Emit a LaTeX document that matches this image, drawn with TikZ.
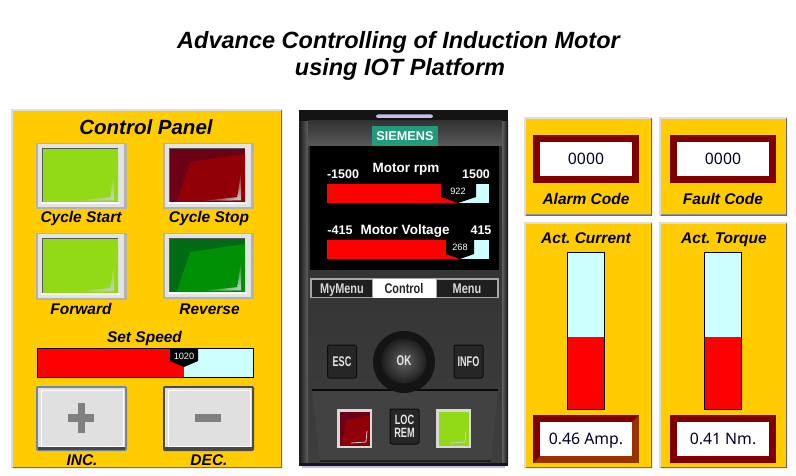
\documentclass[tikz,border=0pt]{standalone}
\usepackage{fontspec}
\usepackage{xcolor}
\setmainfont{Liberation Sans}
\newfontfamily\valfont{Noto Sans}
\definecolor{panelyellow}{HTML}{FFCC00}
\definecolor{framered}{HTML}{800000}
\definecolor{framebrown}{HTML}{993300}
\definecolor{barblue}{HTML}{CCFFFF}
\definecolor{limegreen}{HTML}{92D916}
\definecolor{stopdark}{HTML}{6B0016}
\definecolor{stoplit}{HTML}{900006}
\definecolor{revdark}{HTML}{006A14}
\definecolor{revlit}{HTML}{009006}
\definecolor{siemensgreen}{HTML}{239B78}
\definecolor{incframe}{HTML}{6F86A8}
\definecolor{decframe}{HTML}{4A4A4A}
\tikzset{
  lbl/.style={font=\bfseries\itshape\fontsize{15.5}{15.5}\selectfont,inner sep=0pt,text height=15pt,text depth=3.5pt},
  val/.style={font=\valfont\fontsize{15.8}{16}\selectfont,inner sep=0pt,text=black!85!blue,text height=11.5pt,text depth=0pt},
  hmitxt/.style={font=\bfseries\fontsize{13.5}{14}\selectfont,text=white,inner sep=0pt,text height=14pt,text depth=2pt},
  tick/.style={font=\bfseries\fontsize{12.5}{13}\selectfont,text=white,inner sep=0pt},
  markval/.style={font=\fontsize{9.2}{10}\selectfont,text=white,inner sep=0pt},
  keytxt/.style={font=\bfseries\fontsize{14}{14}\selectfont,text=white!90!black,inner sep=0pt,align=center},
  tabtxt/.style={font=\bfseries\fontsize{14}{14}\selectfont,inner sep=0pt,text height=10pt,text depth=0pt},
  hmikey/.style={fill=black!85,rounded corners=2pt,draw=black!95,line width=1pt},
}
% x y w h : raised yellow panel
\newcommand{\panel}[4]{
  \fill[black!13] (#1,#2) rectangle ++(#3,#4);
  \fill[black!58] (#1+1.5,#2+#4) -- (#1+#3,#2+#4) -- (#1+#3,#2+1) -- (#1+#3-1.5,#2+2) -- (#1+#3-1.5,#2+#4-1.5) -- (#1+2,#2+#4-1.5) -- cycle;
  \fill[panelyellow] (#1+2,#2+2) rectangle (#1+#3-1.5,#2+#4-1.5);
}
% x y w h base lit : lamp face with its frame
\newcommand{\lamp}[6]{
  \fill[black!30] (#1-6,#2-5) rectangle ++(#3+15,#4+12);
  \fill[black!11] (#1-4,#2-4) rectangle ++(#3+10,#4+9);
  \fill[white] (#1-1,#2+#4) rectangle ++(#3+3,2);
  \fill[#5] (#1,#2) rectangle ++(#3,#4);
  \draw[black!65,line width=.8pt] (#1,#2+#4) -- ++(0,-#4) -- ++(#3,0);
  \begin{scope}[shift={(#1,#2)},x=#3pt,y=-#4pt]
    \fill[#6] (.28,.26) -- (1,.11) -- (1,1) -- (.1,1) -- cycle;
    \shade[left color=#6,right color=black!20] (.43,.98) -- (.9,.91) -- (.95,.97) -- cycle;
    \shade[bottom color=black!20,top color=#6] (.9,.91) -- (.95,.41) -- (.95,.97) -- cycle;
  \end{scope}
}
% x frame : grey push button, its sign is drawn after it
\newcommand{\pushbtn}[2]{
  \fill[#2,rounded corners=2pt] (#1,386) rectangle ++(91,65);
  \fill[black!12] (#1+2,388) rectangle ++(87,58.5);
  \draw[white,line width=1pt] (#1+5,390.5) rectangle ++(82,56);
  \fill[black!72] (#1+2,447) rectangle ++(87,3);
}
\begin{document}
\begin{tikzpicture}[x=1pt,y=-1pt]
    %
    \useasboundingbox (0,0) rectangle (796,476);
    \fill[white] (0,0) rectangle (796,476);
    %
    \node[font=\bfseries\itshape\fontsize{23.5}{24}\selectfont,inner sep=0pt] (title1) at (398.5,42) {Advance Controlling of Induction Motor};
    \node[font=\bfseries\itshape\fontsize{23.5}{24}\selectfont,inner sep=0pt] (title2) at (400,69) {using IOT Platform};
    %
    % control panel
    \panel{11}{109}{271}{359}
    \node[lbl,font=\bfseries\itshape\fontsize{20.5}{21}\selectfont] (cp) at (146,129) {Control Panel};
    \lamp{42}{148}{76}{54}{limegreen}{limegreen}
    \lamp{169}{148}{76}{54}{stopdark}{stoplit}
    \lamp{42}{238}{76}{55}{limegreen}{limegreen}
    \lamp{169}{238}{76}{54}{revdark}{revlit}
    \node[lbl] (start) at (81,217) {Cycle Start};
    \node[lbl] (stop) at (209,217) {Cycle Stop};
    \node[lbl] (fwd) at (81,309) {Forward};
    \node[lbl] (rev) at (209.5,309) {Reverse};
    \node[lbl] (setspeed) at (144.5,337) {Set Speed};
    %
    % set speed bar
    \fill[barblue] (37.5,348.5) rectangle (253.5,377.5);
    \fill[red] (37.5,348.5) rectangle (184,377.5);
    \draw[line width=.8pt] (37.5,348.5) rectangle (253.5,377.5);
    \fill[black] (170,348) -- (198,348) -- (198,361) -- (184,367) -- (170,361) -- cycle;
    \node[markval] (spd) at (184,356) {1020};
    %
    \pushbtn{36}{incframe}
    \pushbtn{163}{decframe}
    \fill[black!50] (78,403) rectangle (85,433);
    \fill[black!50] (68,414) rectangle (94,422);
    \fill[black!50] (195,414) rectangle (221,422);
    \node[lbl] (inc) at (82,460) {INC.};
    \node[lbl] (dec) at (209,460) {DEC.};
    %
    % drive keypad
    \fill[black!92] (299,110) rectangle (508,466);
    \fill[black!30!blue!25!white] (302,466) rectangle (505,468);
    \shade[top color=black!82,bottom color=black!76] (308,121) rectangle (502,462);
    \shade[left color=black!90,right color=black!62] (299,122) rectangle (308,462);
    \shade[left color=black!62,right color=black!92] (502,122) rectangle (508,462);
    \fill[black!88] (320,460) rectangle (491,462);
    \fill[black!74] (312,391) -- (498,391) -- (491,460) -- (320,460) -- cycle;
    \fill[black!96] (312,388.5) rectangle (498,390.5);
    \fill[black!25!blue!25!white,rounded corners=2pt] (376,114.5) rectangle (433,118);
    \shade[top color=black!80,bottom color=black!65] (308,121) rectangle (502,146);
    \fill[black] (310,146) rectangle (499,270);
    \node[fill=siemensgreen,minimum width=66pt,minimum height=20pt,inner sep=0pt,text=white,font=\bfseries\fontsize{12.7}{13}\selectfont] (logo) at (405,136) {SIEMENS};
    %
    \node[hmitxt] (rpm) at (406,167) {Motor rpm};
    \node[tick] (rpmlo) at (343,174) {-1500};
    \node[tick] (rpmhi) at (476,174) {1500};
    \fill[barblue] (327,184) rectangle (489,203);
    \fill[red] (327,184) rectangle (458,203);
    \fill[black] (441,184) -- (476,184) -- (476,197) -- (458,203) -- (441,197) -- cycle;
    \node[markval] (rpmval) at (458,191) {922};
    %
    \node[hmitxt] (volt) at (405,229) {Motor Voltage};
    \node[tick] (voltlo) at (340,230) {-415};
    \node[tick] (volthi) at (481,230) {415};
    \fill[barblue] (327,240) rectangle (489,259);
    \fill[red] (327,240) rectangle (460,259);
    \fill[black] (446,240) -- (474,240) -- (474,254) -- (460,259) -- (446,254) -- cycle;
    \node[markval] (voltval) at (460,247) {268};
    %
    % menu tabs
    \fill[black!35] (310,278) rectangle (499,298);
    \fill[black!88] (312,280) rectangle (372,297);
    \fill[white] (373,279) rectangle (436,298);
    \fill[black!88] (437,280) rectangle (497,297);
    \node[tabtxt,text=white!85!black] (tab1) at (342,288.5) {\scalebox{.78}[1]{MyMenu}};
    \node[tabtxt,text=black!85] (tab2) at (404,288.5) {\scalebox{.78}[1]{Control}};
    \node[tabtxt,text=white!85!black] (tab3) at (467,288.5) {\scalebox{.78}[1]{Menu}};
    %
    % keys and dial
    \node[circle,fill=black!92,minimum size=62pt,inner sep=0pt] (dialrim) at (404,362) {};
    \shade[inner color=black!62,outer color=black!88] (404,361) circle[radius=22.5];
    \node[keytxt] (ok) at (404,361) {\scalebox{.7}[1]{OK}};
    \node[hmikey,minimum width=29pt,minimum height=33pt,inner sep=0pt] (esc) at (342,361.5) {};
    \node[keytxt] (esctxt) at (esc) {\scalebox{.65}[1]{ESC}};
    \node[hmikey,minimum width=29pt,minimum height=33pt,inner sep=0pt] (info) at (468.5,361.5) {};
    \node[keytxt] (infotxt) at (info) {\scalebox{.65}[1]{INFO}};
    \node[hmikey,minimum width=29pt,minimum height=35pt,inner sep=0pt] (loc) at (404.5,426.5) {};
    \node[keytxt,font=\bfseries\fontsize{13.5}{12.5}\selectfont] (loctxt) at (loc) {\scalebox{.68}[1]{LOC}\\\scalebox{.68}[1]{REM}};
    %
    \fill[black!15] (337,409) rectangle (372,448);
    \fill[stopdark] (339.5,411.5) rectangle (369.5,445.5);
    \fill[stoplit] (346,420) -- (369.5,415) -- (369.5,445.5) -- (342,445.5) -- cycle;
    \draw[black!20,line width=.8pt] (351,443) -- (366,442) -- (367,431);
    \fill[black!15] (436,409) rectangle (471,448);
    \fill[limegreen] (438.5,411.5) rectangle (468.5,445.5);
    \draw[black!20,line width=.8pt] (450,443) -- (465,442) -- (466,431);
    %
    % alarm and fault
    \panel{524}{117}{128}{99}
    \panel{659}{117}{128}{99}
    \fill[framered] (533,135) rectangle (639,183);
    \fill[white] (540,142) rectangle (632,176);
    \fill[framered] (670,135) rectangle (776,183);
    \fill[white] (677,142) rectangle (769,176);
    \node[val] (alarm) at (586,159) {0000};
    \node[val] (fault) at (723,159) {0000};
    \node[lbl] (alarmlbl) at (586,199) {Alarm Code};
    \node[lbl] (faultlbl) at (723,199) {Fault Code};
    %
    % current and torque
    \panel{524}{222}{128}{246}
    \panel{659}{222}{128}{246}
    \node[lbl] (curlbl) at (586,238) {Act.\ Current};
    \node[lbl] (torlbl) at (724,238) {Act.\ Torque};
    \fill[barblue] (567.5,252.5) rectangle (604.5,409.5);
    \fill[red] (567.5,337) rectangle (604.5,409.5);
    \draw[line width=.8pt] (567.5,252.5) rectangle (604.5,409.5);
    \fill[barblue] (704.5,252.5) rectangle (741.5,409.5);
    \fill[red] (704.5,337) rectangle (741.5,409.5);
    \draw[line width=.8pt] (704.5,252.5) rectangle (741.5,409.5);
    %
    \fill[framebrown] (533,415) rectangle (639,463);
    \fill[framered] (533,463) -- (533,415) -- (639,415) -- (632,422) -- (540,422) -- (540,456) -- cycle;
    \fill[white] (540,422) rectangle (632,456);
    \fill[framered] (670,415) rectangle (776,463);
    \fill[white] (677,422) rectangle (769,456);
    \node[val] (amp) at (586,439) {0.46 Amp.};
    \node[val] (nm) at (723,439) {0.41 Nm.};
    %
\end{tikzpicture}
\end{document}
